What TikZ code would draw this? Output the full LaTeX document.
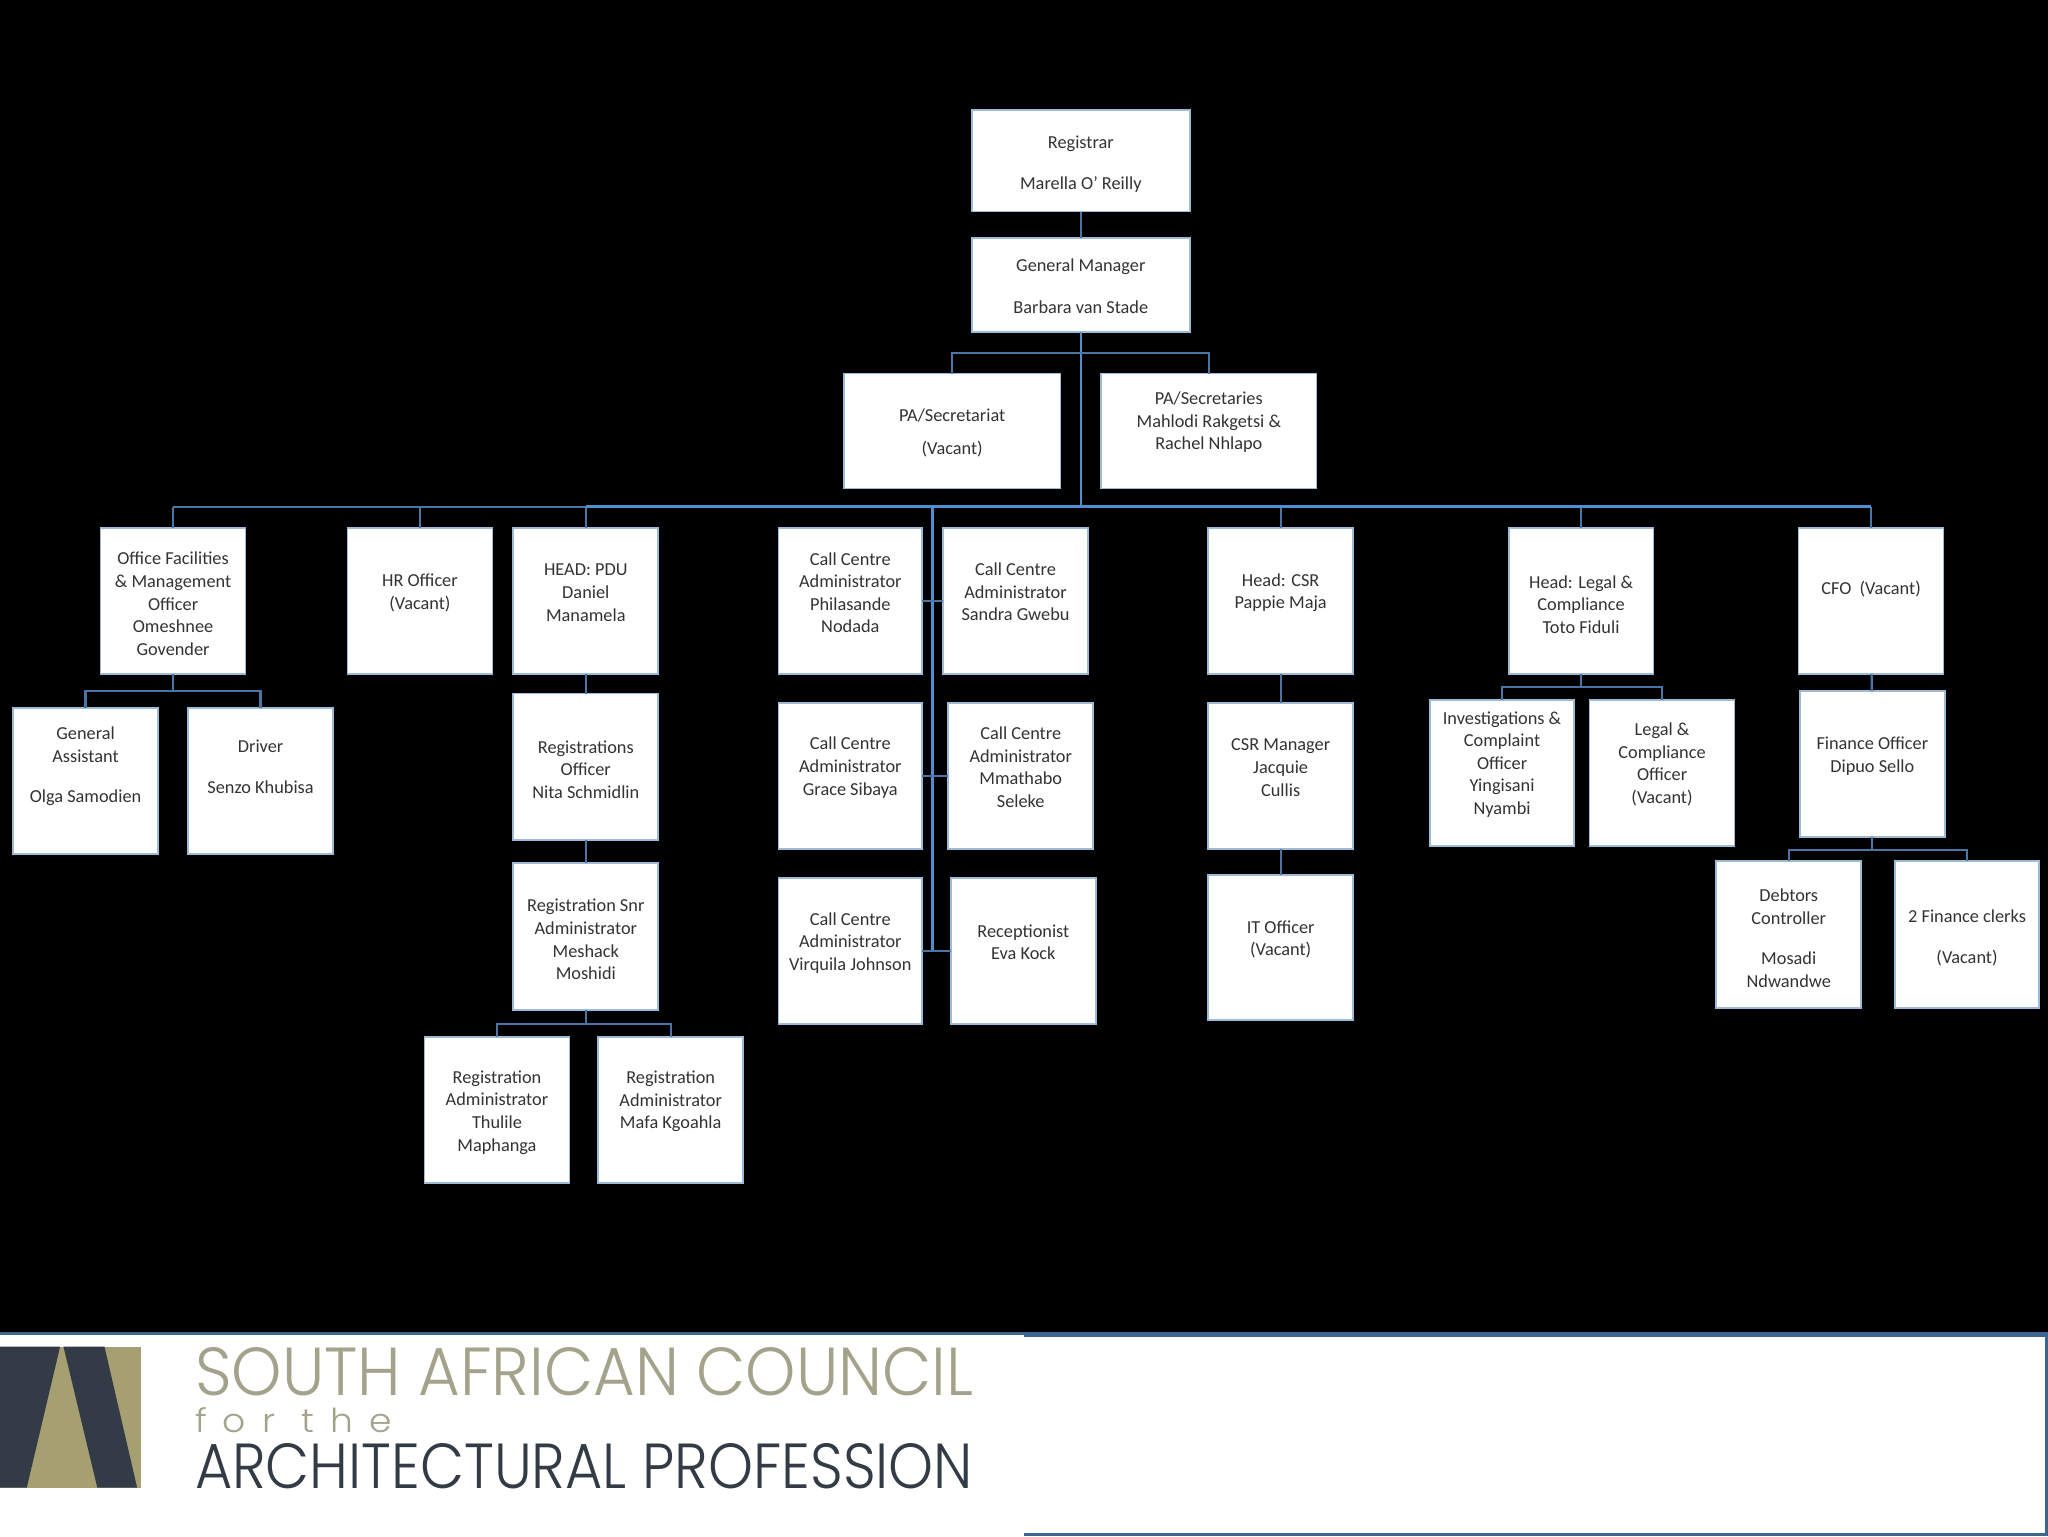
\documentclass[tikz,border=0pt]{standalone}
\usepackage{fontspec}
\usepackage{graphicx}
\setmainfont{Carlito}
\newfontfamily\logolight[UprightFont={* Light}]{Poppins}
\definecolor{conn}{HTML}{4A76A6}
\definecolor{connb}{HTML}{4F8ECF}
\definecolor{edge}{HTML}{9DBAD6}
\definecolor{txt}{HTML}{333333}
\definecolor{olive}{HTML}{A59F72}
\definecolor{slate}{HTML}{333C46}
\definecolor{lgrey}{HTML}{A3A28A}
\definecolor{band}{HTML}{3A6691}
\tikzset{
  orgbox/.style={draw=edge,fill=white,line width=0.9pt,inner sep=0pt,outer sep=0pt},
  orgtext/.style={text=txt,align=center,inner sep=0pt,yshift=-0.5pt,font=\fontsize{9.15}{11.3}\selectfont},
  link/.style={draw=conn,line width=1.1pt},
  linkb/.style={draw=connb,line width=1.4pt}
}
\newcommand{\bx}[7]{%
  \pgfmathsetmacro{\cxx}{(#2+#4)/2}%
  \pgfmathsetmacro{\cyy}{(#3+#5)/2}%
  \pgfmathsetmacro{\www}{(#4-#2)*0.653}%
  \pgfmathsetmacro{\hhh}{(#5-#3)*0.653}%
  \node[orgbox,minimum width=\www pt,minimum height=\hhh pt] (#1) at (\cxx,\cyy) {};
  \node[orgtext] (#1t) at (\cxx,#6) {#7};
}
\begin{document}
\begin{tikzpicture}[x=0.653061pt,y=-0.653061pt]
\useasboundingbox (0,0) rectangle (1568,1176);
\fill[black] (0,0) rectangle (1568,1176);

\coordinate (busL) at (132.5,388);
\coordinate (busR) at (1432.5,388);
\coordinate (hub) at (827.5,388);
\coordinate (spineTop) at (714,388);
\coordinate (spineEnd) at (714,728);
\coordinate (paL) at (729,270);
\coordinate (paR) at (925.5,270);

\bx{reg}{744}{84}{911}{162}{125}{Registrar\\[9.6pt]Marella O’ Reilly}
\bx{gm}{744}{182}{911}{254}{218.5}{General Manager\\[9.6pt]Barbara van Stade}
\bx{paa}{646}{286}{812}{374}{330.5}{PA/Secretariat\\[5pt](Vacant)}
\bx{pab}{843}{286}{1008}{374}{322.5}{PA/Secretaries\\Mahlodi Rakgetsi \&\\Rachel Nhlapo}
\bx{off}{77}{404}{188}{516}{461.5}{Office Facilities\\\& Management\\Officer\\Omeshnee\\Govender}
\bx{hr}{266}{404}{377}{516}{453}{HR Officer\\(Vacant)}
\bx{pdu}{393}{404}{504}{516}{453}{HEAD: PDU\\Daniel\\Manamela}
\bx{cca}{596}{404}{706}{516}{453}{Call Centre\\Administrator\\Philasande\\Nodada}
\bx{ccb}{722}{404}{833}{516}{452.5}{Call Centre\\Administrator\\Sandra Gwebu}
\bx{csr}{925}{404}{1036}{516}{453}{Head: CSR\\Pappie Maja}
\bx{leg}{1155}{404}{1266}{516}{462}{Head: Legal \&\\Compliance\\Toto Fiduli}
\bx{cfo}{1377}{404}{1488}{516}{450}{CFO~~(Vacant)}
\bx{ga}{10}{542}{121}{654}{586}{General\\Assistant\\[9pt]Olga Samodien}
\bx{drv}{144}{542}{255}{654}{586.5}{Driver\\[9pt]Senzo Khubisa}
\bx{rego}{393}{531}{504}{643}{588.5}{Registrations\\Officer\\Nita Schmidlin}
\bx{snr}{393}{661}{504}{773}{718.5}{Registration Snr\\Administrator\\Meshack\\Moshidi}
\bx{raa}{325}{794}{436}{906}{851}{Registration\\Administrator\\Thulile\\Maphanga}
\bx{rab}{458}{794}{569}{906}{842.5}{Registration\\Administrator\\Mafa Kgoahla}
\bx{ccc}{596}{538}{706}{650}{587}{Call Centre\\Administrator\\Grace Sibaya}
\bx{ccd}{726}{538}{837}{650}{586.5}{Call Centre\\Administrator\\Mmathabo\\Seleke}
\bx{cce}{596}{672}{706}{784}{721}{Call Centre\\Administrator\\Virquila Johnson}
\bx{rcp}{728}{672}{839}{784}{720.5}{Receptionist\\Eva Kock}
\bx{mgr}{925}{538}{1036}{650}{587}{CSR Manager\\Jacquie\\Cullis}
\bx{it}{925}{670}{1036}{781}{718.5}{IT Officer\\(Vacant)}
\bx{inv}{1095}{536}{1205}{648}{584.5}{Investigations \&\\Complaint\\Officer\\Yingisani\\Nyambi}
\bx{lgo}{1217}{536}{1328}{648}{584.5}{Legal \&\\Compliance\\Officer\\(Vacant)}
\bx{fin}{1378}{529}{1489}{641}{578}{Finance Officer\\Dipuo Sello}
\bx{deb}{1314}{659}{1425}{772}{717.5}{Debtors\\Controller\\[9pt]Mosadi\\Ndwandwe}
\bx{clk}{1451}{659}{1561}{772}{717.5}{2 Finance clerks\\[9pt](Vacant)}

\coordinate (offBus) at (132.5,529);
\coordinate (snrBus) at (448.5,784);
\coordinate (legBus) at (1210.5,526);
\coordinate (finBus) at (1433.5,651);

\draw[link] (reg) -- (gm);
\draw[linkb,line width=1.1pt] (gm.south) -- (hub);
\draw[link] (paa.north) |- (paL) -- (paR) -| (pab.north);
\draw[link] (off.north) -- (off.north |- busL);
\draw[link] (hr.north) -- (hr.north |- busL);
\draw[link] (pdu.north) -- (pdu.north |- busL);
\draw[link] (csr.north) -- (csr.north |- busL);
\draw[link] (leg.north) -- (leg.north |- busL);
\draw[link] (cfo.north) -- (cfo.north |- busL);
\draw[link] (busL) -- (pdu.north |- busL);
\draw[linkb] (pdu.north |- busL) -- (busR);
\draw[linkb] (spineTop) -- (spineEnd);
\draw[link] (cca.east) -- (ccb.west);
\draw[link] (ccc.east) -- (ccd.west);
\draw[link] (cce.east) -- (rcp.west);
\draw[link] (off.south) -- (offBus);
\draw[link] (ga.north) |- (offBus) -| (drv.north);
\draw[link] (pdu) -- (rego);
\draw[link] (rego) -- (snr);
\draw[link] (snr.south) -- (snrBus);
\draw[link] (raa.north) |- (snrBus) -| (rab.north);
\draw[link] (csr) -- (mgr);
\draw[link] (mgr) -- (it);
\draw[link] (leg.south) -- (legBus);
\draw[link] (inv.north) |- (legBus) -| (lgo.north);
\draw[link] (cfo) -- (fin);
\draw[link] (fin.south) -- (finBus);
\draw[link] (deb.north) |- (finBus) -| (clk.north);

% bottom band
\fill[white] (0,1022) rectangle (1568,1176);
\fill[band] (0,1019.5) rectangle (784,1022);
\fill[band] (784,1019.5) rectangle (1568,1023.5);
\fill[band] (784,1173.5) rectangle (1568,1176);
\fill[band] (1566,1019.5) rectangle (1568,1176);

% logo mark
\fill[olive] (0,1031) rectangle (108,1139);
\fill[slate] (0,1031) -- (46,1031) -- (20.5,1139) -- (0,1139) -- cycle;
\fill[slate] (48.6,1031) -- (80,1031) -- (105,1139) -- (74.5,1139) -- cycle;

\node[anchor=north west,inner sep=0pt,text=lgrey] (logoa) at (149,1031)
  {\resizebox{389.2pt}{24pt}{\logolight SOUTH AFRICAN COUNCIL}};
\node[anchor=north west,inner sep=0pt,text=lgrey] (logob) at (149,1077)
  {\resizebox{98.6pt}{12.5pt}{\logolight\addfontfeature{LetterSpace=45}for the}};
\node[anchor=north west,inner sep=0pt,text=slate] (logoc) at (149,1105)
  {\resizebox{389pt}{22.5pt}{\logolight ARCHITECTURAL PROFESSION}};
\end{tikzpicture}
\end{document}
